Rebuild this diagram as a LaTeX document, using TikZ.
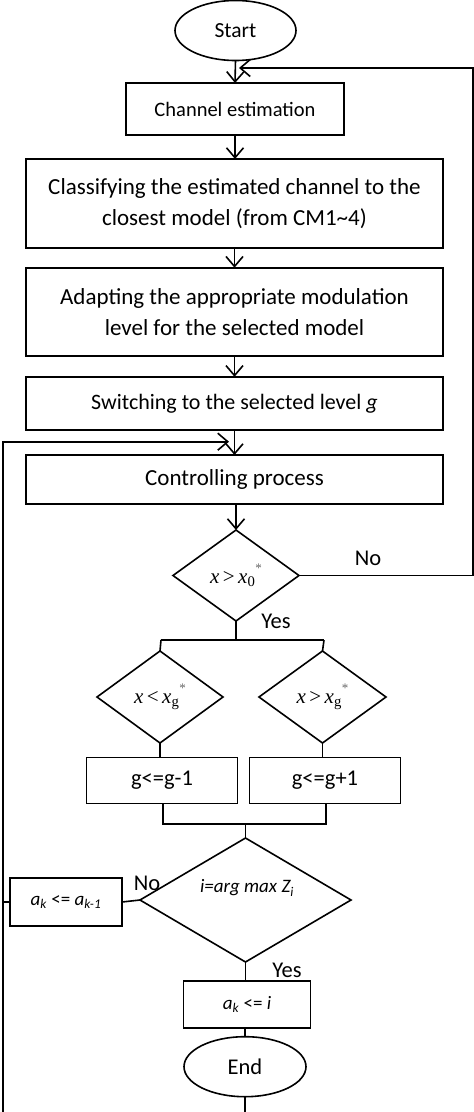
\documentclass[tikz,border=0pt]{standalone}
\usepackage{fontspec}
\setmainfont{Carlito}
\newfontfamily\cmfont{Liberation Serif}
\usetikzlibrary{shapes.geometric,arrows.meta}
\newcommand{\xcmp}[3]{{\cmfont\textit{x}\,#1\,\textit{x}\textsubscript{#2}\raisebox{0.5em}{\fontsize{13}{13}\selectfont\color{black!60}*}}}
\begin{document}
\begin{tikzpicture}[x=1pt,y=-1pt,
  every node/.style={inner sep=0pt,outer sep=0pt,font=\fontsize{22.5}{27}\selectfont},
  line width=1.6pt,
  box/.style={draw,rectangle,align=center},
  oval/.style={draw,ellipse},
  dia/.style={draw,diamond,font=\fontsize{21}{24}\selectfont},
  arr/.style={-{Straight Barb[length=10pt,width=17pt,line width=1.6pt]}},
  lbl/.style={font=\fontsize{22.5}{27}\selectfont}]
\useasboundingbox (0,0) rectangle (474,1112);

\node[oval,minimum width=121pt,minimum height=60pt,font=\fontsize{21.5}{26}\selectfont] (start) at (235.5,30.5) {Start};
\node[box,minimum width=218pt,minimum height=52pt,font=\fontsize{20.5}{25}\selectfont] (ce) at (235,109) {Channel estimation};
\node[box,minimum width=417pt,minimum height=89pt,font=\fontsize{23}{31}\selectfont] (cls) at (234.5,203.5) {Classifying the estimated channel to the\\closest model (from CM1\textasciitilde4)};
\node[box,minimum width=417pt,minimum height=88pt,font=\fontsize{23}{31}\selectfont] (adp) at (234.5,311.7) {Adapting the appropriate modulation\\level for the selected model};
\node[box,minimum width=417pt,minimum height=53pt,font=\fontsize{22}{26}\selectfont] (sw) at (234.5,403.3) {Switching to the selected level \textit{g}};
\node[box,minimum width=417pt,minimum height=49pt,font=\fontsize{23}{27}\selectfont] (ctl) at (234.5,479.5) {Controlling process};
\node[dia,minimum width=126pt,minimum height=91pt] (d1) at (236,575.5) {\xcmp{>}{0}{}};
\node[dia,minimum width=126pt,minimum height=92pt] (d2) at (160,697) {\xcmp{<}{g}{}};
\node[dia,minimum width=127pt,minimum height=92pt] (d3) at (322.5,697) {\xcmp{>}{g}{}};
\node[box,minimum width=151pt,minimum height=46pt] (gm) at (162,780.5) {g<=g-1};
\node[box,minimum width=151pt,minimum height=46pt] (gp) at (325,780.5) {g<=g+1};
\node[dia,minimum width=211pt,minimum height=124pt] (d4) at (245.5,900) {};
\node[font=\fontsize{19}{23}\selectfont\itshape] (d4t) at (247,888) {i=arg max Z\textsubscript{i}};
\node[box,minimum width=112pt,minimum height=48pt,font=\fontsize{19}{23}\selectfont] (ak1) at (66,902) {\textit{a}\textsubscript{\textit{k}} <= \textit{a}\textsubscript{\textit{k-1}}};
\node[box,minimum width=127pt,minimum height=47pt,font=\fontsize{19}{23}\selectfont] (aki) at (247,1004.5) {\textit{a}\textsubscript{\textit{k}} <= \textit{i}};
\node[oval,minimum width=122pt,minimum height=60pt] (end) at (245,1066.7) {End};

\node[lbl] (no1) at (368,558) {No};
\node[lbl] (yes1) at (276,621) {Yes};
\node[lbl] (no2) at (147,883) {No};
\node[lbl] (yes2) at (287,970) {Yes};

\coordinate (r1) at (473,575.5);
\coordinate (r2) at (473,68);
\coordinate (r3) at (239,68);
\coordinate (l0) at (3,1112);
\coordinate (l1) at (3,441.7);
\coordinate (l2) at (229,441.7);
\coordinate (l3) at (3,902);
\coordinate (y1) at (236,640);
\coordinate (y1l) at (161,640);
\coordinate (y1r) at (324,640);
\coordinate (m1l) at (163,824);
\coordinate (m1r) at (326,824);
\coordinate (m1) at (245.5,824);
\coordinate (eb) at (245,1112);

\draw[arr] (start.south) -- (ce.north);
\draw[arr] (ce.south) -- (ce.south |- cls.north);
\draw[arr] (cls.south) -- (adp.north);
\draw[arr] (adp.south) -- (sw.north);
\draw[arr] (sw.south) -- (ctl.north);
\draw[arr] (ctl.south) -- (ctl.south -| d1.north) -- (d1.north);
\draw[arr] (d1.east) -- (r1) -- (r2) -- (r3);
\draw[arr] (l0) -- (l1) -- (l2);
\draw (ak1.west) -- (l3);
\draw (d1.south) -- (y1);
\draw (y1l) -- (y1r);
\draw (y1l) -- (d2.north);
\draw (y1r) -- (d3.north);
\draw (d2.south) -- (d2.south |- gm.north);
\draw (d3.south) -- (d3.south |- gp.north);
\draw (gm.south -| m1l) -- (m1l) -- (m1r) -- (gp.south -| m1r);
\draw (m1) -- (d4.north);
\draw (d4.west) -- (ak1.east);
\draw (d4.south) -- (d4.south |- aki.north);
\draw (aki.south -| end.north) -- (end.north);
\draw (end.south) -- (eb);
\end{tikzpicture}
\end{document}
